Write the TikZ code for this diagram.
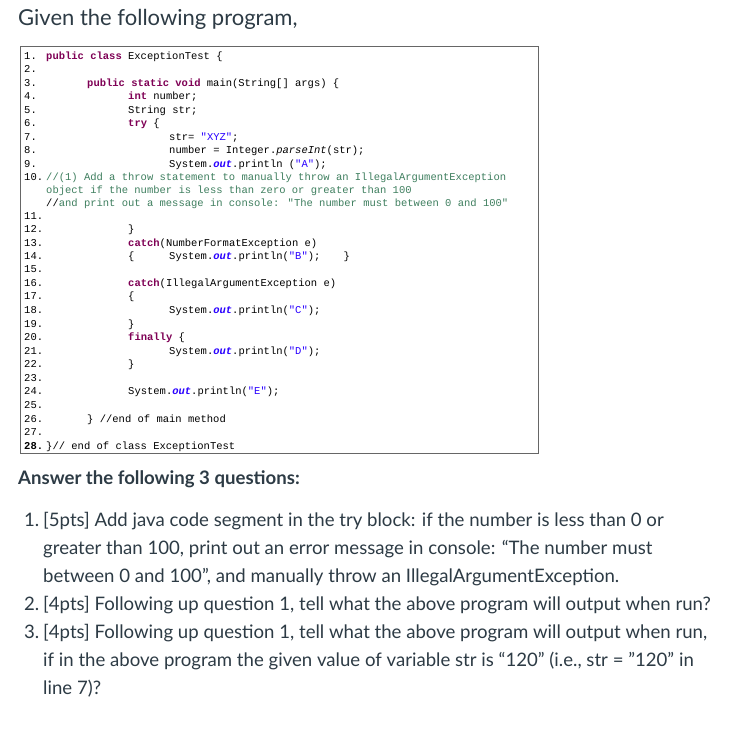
\documentclass[tikz,border=0pt]{standalone}
\usepackage{fontspec}
\setmainfont{Lato}
\newfontfamily\codef{Liberation Mono}
\definecolor{kwc}{RGB}{127,0,85}
\definecolor{stc}{RGB}{42,0,255}
\definecolor{cmc}{RGB}{63,127,95}
\definecolor{txc}{RGB}{45,59,69}
\newcommand{\kw}[1]{\textcolor{kwc}{\bfseries #1}}
\newcommand{\strg}[1]{\textcolor{stc}{#1}}
\newcommand{\cmt}[1]{\textcolor{cmc}{#1}}
\newcommand{\ou}[1]{\textcolor{stc}{\bfseries\itshape #1}}
\tikzset{
 code/.style={anchor=base west,inner sep=0pt,font=\codef\fontsize{10.5}{12}\selectfont,text=black},
 lnum/.style={code},
 prose/.style={anchor=base west,inner sep=0pt,font=\fontsize{18.6}{22}\selectfont,text=txc},
}
\begin{document}
\begin{tikzpicture}[x=1pt,y=-1pt]
\useasboundingbox (0,0) rectangle (742,744);
\fill[white] (0,0) rectangle (742,744);
\node[prose,font=\fontsize{22}{26}\selectfont] (title) at (18,25) {Given the following program,};
\draw[gray!80!black,line width=0.8] (20,46) rectangle (538,453);
% line numbers
\foreach \n/\y in {1/59,2/72,3/86,4/99,5/113,6/126,7/140,8/153,9/167,10/180,11/219,12/232,13/246,14/259,15/272,16/286,17/299,18/313,19/327,20/340,21/354,22/367,23/381,24/394,25/408,26/422,27/435}
 \node[lnum] (n\n) at (24,\y) {\n.};
\node[lnum] (n28) at (24,449) {\bfseries 28.};
\node[code] (c1) at (46,59) {\kw{public} \kw{class} ExceptionTest \{};
\node[code] (c3) at (87,86) {\kw{public} \kw{static} \kw{void} main(String[] args) \{};
\node[code] (c4) at (128,99) {\kw{int} number;};
\node[code] (c5) at (128,113) {String str;};
\node[code] (c6) at (128,126) {\kw{try} \{};
\node[code] (c7) at (169,140) {str= \strg{"XYZ"};};
\node[code] (c8) at (169,153) {number = Integer.\textit{parseInt}(str);};
\node[code] (c9) at (169,167) {System.\ou{out}.println (\strg{"A"});};
\node[code] (c10) at (46,180) {\cmt{//(1) Add a throw statement to manually throw an IllegalArgumentException}};
\node[code] (c10b) at (46,193) {\cmt{object if the number is less than zero or greater than 100}};
\node[code] (c10c) at (46,206) {//\cmt{and print out a message in console: "The number must between 0 and 100"}};
\node[code] (c12) at (128,232) {\}};
\node[code] (c13) at (128,246) {\kw{catch}(NumberFormatException e)};
\node[code] (c14) at (128,259) {\{};
\node[code] (c14b) at (169,259) {System.\ou{out}.println(\strg{"B"});\quad\ \ \}};
\node[code] (c16) at (128,286) {\kw{catch}(IllegalArgumentException e)};
\node[code] (c17) at (128,299) {\{};
\node[code] (c18) at (169,313) {System.\ou{out}.println(\strg{"C"});};
\node[code] (c19) at (128,327) {\}};
\node[code] (c20) at (128,340) {\kw{finally} \{};
\node[code] (c21) at (169,354) {System.\ou{out}.println(\strg{"D"});};
\node[code] (c22) at (128,367) {\}};
\node[code] (c24) at (128,394) {System.\ou{out}.println(\strg{"E"});};
\node[code] (c26) at (87,422) {\} //end of main method};
\node[code] (c28) at (46,449) {\}// end of class ExceptionTest};
\node[prose,font=\bfseries\fontsize{18.6}{22}\selectfont] (ans) at (18,484) {Answer the following 3 questions:};
\node[prose] (q1n) at (24,526) {1.};
\node[prose] (q1a) at (43,526) {[5pts] Add java code segment in the try block: if the number is less than 0 or};
\node[prose] (q1b) at (43,554) {greater than 100, print out an error message in console: “The number must};
\node[prose] (q1c) at (43,582) {between 0 and 100”, and manually throw an IllegalArgumentException.};
\node[prose] (q2n) at (24,610) {2.};
\node[prose] (q2a) at (43,610) {[4pts] Following up question 1, tell what the above program will output when run?};
\node[prose] (q3n) at (24,638) {3.};
\node[prose] (q3a) at (43,638) {[4pts] Following up question 1, tell what the above program will output when run,};
\node[prose] (q3b) at (43,666) {if in the above program the given value of variable str is “120” (i.e., str = "120" in};
\node[prose] (q3c) at (43,694) {line 7)?};
\end{tikzpicture}
\end{document}
